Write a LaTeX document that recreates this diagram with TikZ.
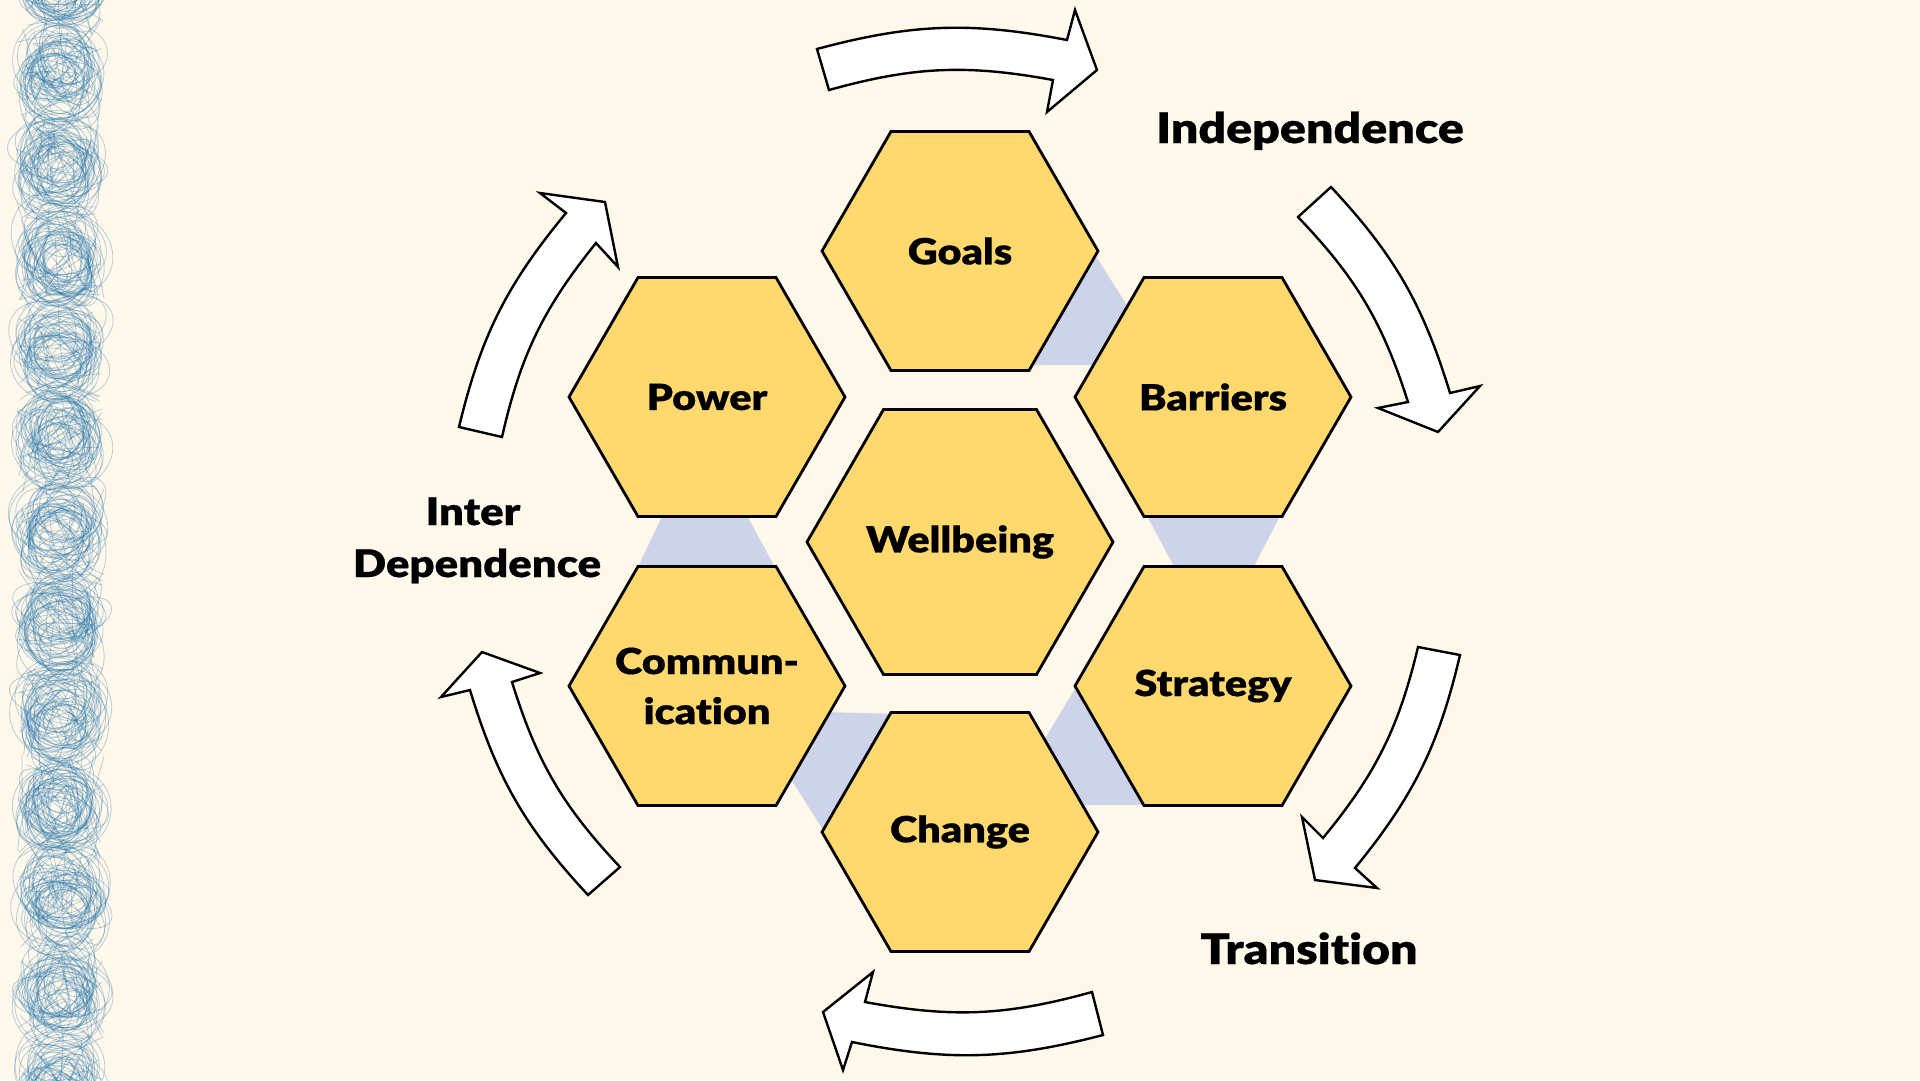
\documentclass[tikz,border=0pt]{standalone}
\usepackage{fontspec}
\setmainfont{Lato Black}[FakeStretch=1.15, FakeBold=0.5, Ligatures=NoCommon]
\usetikzlibrary{shapes.geometric}
\definecolor{bgc}{HTML}{FFF8EB}
\definecolor{hexfill}{HTML}{FFD86E}
\definecolor{linkblue}{HTML}{CDD4EA}
\definecolor{stripblue}{HTML}{2A78AC}
\begin{document}
\begin{tikzpicture}[x=1pt,y=-1pt,
  hexa/.style={regular polygon, regular polygon sides=6, minimum size=276pt,
    inner sep=-40pt, outer sep=0pt, draw=black, line width=2.8pt, fill=hexfill,
    font=\fontsize{36}{50}\selectfont, align=center},
  bigbox/.style={hexa, minimum size=306pt},
  cyclearrow/.style={draw=black, line width=2.4pt, fill=white, line join=miter},
  phase/.style={font=\fontsize{42}{50}\selectfont, anchor=base, inner sep=0pt},
  link/.style={fill=linkblue},
  scribble/.style={draw=stripblue, line width=0.8pt, opacity=0.33}
]
\useasboundingbox (0,0) rectangle (1920,1080);
\fill[bgc] (0,0) rectangle (1920,1080);

% decorative scribble strip
\begin{scope}
\clip (0,0) rectangle (130,1080);
\pgfmathsetseed{4242}
\foreach \cy in {-20,72,...,1110} {
  \foreach \k in {1,...,34} {
    \pgfmathsetmacro\ox{60+9*rand}
    \pgfmathsetmacro\oy{\cy+22*rand}
    \pgfmathsetmacro\rx{18+26*rnd}
    \pgfmathsetmacro\ry{20+28*rnd}
    \pgfmathsetmacro\ang{180*rnd}
    \draw[scribble, rotate around={\ang:(\ox,\oy)}] (\ox,\oy) ellipse [x radius=\rx, y radius=\ry];
  }
  \foreach \k in {1,...,30} {
    \pgfmathsetmacro\ax{60+44*rand}
    \pgfmathsetmacro\ay{\cy+55*rand}
    \pgfmathsetmacro\bx{60+44*rand}
    \pgfmathsetmacro\by{\cy+55*rand}
    \pgfmathsetmacro\qx{60+40*rand}
    \pgfmathsetmacro\qy{\cy+45*rand}
    \draw[scribble] (\ax,\ay) .. controls (\qx,\qy) .. (\bx,\by);
  }
}
\end{scope}

% blue links between neighbouring hexagons
\fill[link] (1092,250) -- (1135,318) -- (1110,365) -- (1020,365) -- cycle;
\fill[link] (1147,516) -- (1280,516) -- (1251,572) -- (1177,572) -- cycle;
\fill[link] (1080,680) -- (1040,747) -- (1078,805) -- (1150,805) -- cycle;
\fill[link] (825,712) -- (900,714) -- (827,836) -- (787,773) -- cycle;
\fill[link] (665,510) -- (744,510) -- (776,569) -- (637,569) -- cycle;

% hexagons
\node[hexa] (goals) at (960,251) {Goals};
\node[hexa] (barriers) at (1213,397) {Barriers};
\node[hexa] (strategy) at (1213,686) {Strategy};
\node[hexa] (change) at (960,832) {Change};
\node[hexa] (comm) at (707,686) {Commun-\\ication};
\node[hexa] (power) at (707,397) {Power};
\node[bigbox] (well) at (960,542) {Wellbeing};

% cycle arrows
\draw[cyclearrow] (817,49) to[bend left=13] (1067,40) -- (1075,10) -- (1097,70) -- (1047,112) -- (1053,80) to[bend right=13] (829,90) -- cycle;
\draw[cyclearrow] (1331,187) to[bend left=13] (1450,393) -- (1480,386) -- (1438,432) -- (1378,408) -- (1408,402) to[bend right=13] (1298,217) -- cycle;
\draw[cyclearrow] (1460,655) to[bend left=13] (1355,868) -- (1377,888) -- (1315,880) -- (1302,817) -- (1323,838) to[bend right=13] (1418,647) -- cycle;
\draw[cyclearrow] (1103,1035) to[bend left=13] (852,1042) -- (843,1070) -- (823,1012) -- (873,972) -- (865,1002) to[bend right=13] (1092,992) -- cycle;
\draw[cyclearrow] (588,895) to[bend left=13] (470,690) -- (441,697) -- (482,652) -- (540,673) -- (512,682) to[bend right=13] (620,867) -- cycle;
\draw[cyclearrow] (459,427) to[bend left=13] (566,213) -- (540,193) -- (605,202) -- (618,267) -- (596,243) to[bend right=13] (502,437) -- cycle;

% phase labels
\node[phase] (indep) at (1310,143) {Independence};
\node[phase] (trans) at (1309,964) {Transition};
\node[phase, font=\fontsize{38}{50}\selectfont] (inter) at (473,525) {Inter};
\node[phase, font=\fontsize{38}{50}\selectfont] (depend) at (477,577) {Dependence};
\end{tikzpicture}
\end{document}
